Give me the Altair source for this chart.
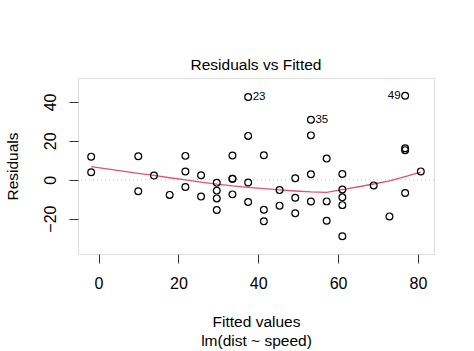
import altair as alt
import pandas as pd

# fitted values and residuals of lm(dist ~ speed)
fitted = [-1.85, -1.85, 9.95, 9.95, 13.88, 17.81, 21.75, 21.75, 21.75, 25.68,
          25.68, 29.61, 29.61, 29.61, 29.61, 33.54, 33.54, 33.54, 33.54, 37.47,
          37.47, 37.47, 37.47, 41.41, 41.41, 41.41, 45.34, 45.34, 49.27, 49.27,
          49.27, 53.20, 53.20, 53.20, 53.20, 57.14, 57.14, 57.14, 61.07, 61.07,
          61.07, 61.07, 61.07, 68.93, 72.87, 76.80, 76.80, 76.80, 76.80, 80.73]
residuals = [3.85, 11.85, -5.95, 12.05, 2.12, -7.81, -3.74, 4.26, 12.26, -8.68,
             2.32, -15.61, -9.61, -5.61, -1.61, -7.54, 0.46, 0.46, 12.46, -11.47,
             -1.47, 22.53, 42.53, -21.41, -15.41, 12.59, -13.34, -5.34, -17.27, -9.27,
             0.73, -11.20, 2.80, 22.80, 30.80, -21.14, -11.14, 10.86, -29.07, -13.07,
             -9.07, -5.07, 2.93, -2.93, -18.87, -6.80, 15.20, 16.20, 43.20, 4.27]

# smooth (red line)
smooth_x = [-1.85, 9.95, 13.88, 17.81, 21.75, 25.68, 29.61, 33.54, 37.47, 41.41,
            45.34, 49.27, 53.20, 57.14, 61.07, 68.93, 72.87, 76.80, 80.73]
smooth_y = [6.7, 3.3, 2.2, 1.0, -0.1, -1.2, -2.3, -3.2, -3.9, -4.6,
            -5.2, -5.8, -6.3, -6.5, -5.1, -2.2, -0.6, 1.6, 3.9]

# labelled observations
right_ids = ["23", "35"]
right_x = [37.47, 53.20]
right_y = [42.53, 30.80]
left_ids = ["49"]
left_x = [76.80]
left_y = [43.20]

x_ticks = [0, 20, 40, 60, 80]
y_ticks = [-20, 0, 20, 40]

FONT = "Liberation Sans"

pts = pd.DataFrame({"fitted": fitted, "resid": residuals})
sm = pd.DataFrame({"fitted": smooth_x, "resid": smooth_y})
lab_r = pd.DataFrame({"fitted": right_x, "resid": right_y, "id": right_ids})
lab_l = pd.DataFrame({"fitted": left_x, "resid": left_y, "id": left_ids})
zero = pd.DataFrame({"resid": [0]})

xscale = alt.Scale(domain=[-5.15, 84.03], nice=False, zero=False)
yscale = alt.Scale(domain=[-38.2, 52.3], nice=False, zero=False)

xaxis = alt.Axis(values=x_ticks, title=["Fitted values", "lm(dist ~ speed)"],
                 grid=False, domain=False, tickSize=9, tickColor="#333333",
                 labelFontSize=16, labelBaseline="alphabetic", labelPadding=25,
                 labelFlush=False, labelColor="black", labelFont=FONT,
                 titleFont=FONT, titleFontSize=15.5, titleFontWeight="normal",
                 titleColor="black", titleBaseline="alphabetic", titleLineHeight=19,
                 titleX=178, titleY=72.7, titleAlign="center")
yaxis = alt.Axis(values=y_ticks, title="Residuals", grid=False, domain=False,
                 tickSize=9, tickColor="#333333", labelFontSize=16, labelAngle=270,
                 labelAlign="center", labelBaseline="alphabetic", labelPadding=13.5,
                 labelFlush=False, labelColor="black", labelFont=FONT,
                 titleFont=FONT, titleFontSize=15.5, titleFontWeight="normal",
                 titleColor="black", titleAngle=270, titleBaseline="alphabetic",
                 titleAlign="center", titleX=-60.5, titleY=88)

base_x = alt.X("fitted:Q", scale=xscale, axis=xaxis)
base_y = alt.Y("resid:Q", scale=yscale, axis=yaxis)

zero_line = alt.Chart(zero).mark_rule(color="#BEBEBE", strokeDash=[1, 3], strokeWidth=1).encode(
    y=alt.Y("resid:Q", scale=yscale, axis=yaxis))

points = alt.Chart(pts).mark_point(shape="circle", filled=False, size=46, strokeWidth=1.2,
                                   color="black", opacity=1).encode(x=base_x, y=base_y)

smooth = alt.Chart(sm).mark_line(color="#DF536B", strokeWidth=1.3).encode(x=base_x, y=base_y)

text_r = alt.Chart(lab_r).mark_text(align="left", baseline="middle", dx=4.5, fontSize=11.5,
                                    font=FONT, color="black").encode(x=base_x, y=base_y, text="id:N")
text_l = alt.Chart(lab_l).mark_text(align="right", baseline="middle", dx=-4.5, fontSize=11.5,
                                    font=FONT, color="black").encode(x=base_x, y=base_y, text="id:N")

chart = alt.layer(zero_line, smooth, points, text_r, text_l).properties(
    width=356, height=176,
    autosize=alt.AutoSizeParams(type="none"),
    padding={"left": 78, "top": 78, "right": 40, "bottom": 97},
    title=alt.TitleParams("Residuals vs Fitted", font=FONT, fontSize=15.5, fontWeight="normal",
                          color="black", anchor="middle", baseline="alphabetic", offset=7.5,
                          dy=14.5),
).configure_view(stroke="#333333", strokeWidth=1).configure(background="white")

chart.save("out.html", embed_options={"renderer": "svg", "actions": False})
